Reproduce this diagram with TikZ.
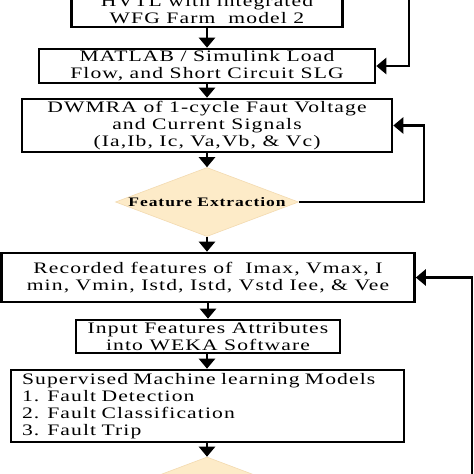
\documentclass[tikz,border=0pt]{standalone}
\usepackage{fontspec}
\setmainfont{Liberation Serif}[FakeStretch=1.35,LetterSpace=7]
\usepackage{tikz}
\usetikzlibrary{arrows.meta}
\usetikzlibrary{shapes.geometric}
\definecolor{tanfill}{HTML}{FDEBC8}
\definecolor{tanedge}{HTML}{F3DAB0}
\tikzset{blk/.style={draw, line width=2.6pt, inner sep=0pt, align=center, font=\fontsize{16}{17}\selectfont}}
\tikzset{dec/.style={diamond, fill=tanfill, draw=tanedge, line width=.6pt, inner sep=0pt, font=\fontsize{13}{13}\selectfont\bfseries}}
\tikzset{go/.style={line width=2.6pt, -{Triangle[width=16pt,length=10pt]}}}

\begin{document}
\begin{tikzpicture}[x=1pt, y=-1pt]
        \path[use as bounding box] (0,0) rectangle (474,474);
        \clip (0,0) rectangle (474,474);
        \fill[white] (0,0) rectangle (474,474);
          \node[blk, minimum width=271, minimum height=35] (hvtl) at (207,9.5) {HVTL with integrated\\WFG Farm~ model 2};
          \node[blk, minimum width=336, minimum height=34] (matlab) at (207,66) {MATLAB / Simulink Load\\Flow, and Short Circuit SLG};
          \node[blk, minimum width=370, minimum height=53] (dwmra) at (207,125.5) {DWMRA of 1-cycle Faut Voltage\\and Current Signals\\(Ia,Ib, Ic, Va,Vb, \& Vc)};
          \node[dec, minimum width=183, minimum height=69] (feat) at (207,202) {\makebox[0pt]{Feature Extraction}};
          \node[blk, minimum width=413, minimum height=49] (rec) at (208,277.5) {Recorded features of~ Imax, Vmax, I\\min, Vmin, Istd, Istd, Vstd Iee, \& Vee};
          \node[blk, minimum width=264, minimum height=33] (weka) at (208,336.5) {Input Features Attributes\\into WEKA Software};
          \node[blk, minimum width=393, minimum height=72, align=left, text width=371] (sml) at (207.5,406) {Supervised Machine learning Models\\1. Fault Detection\\2. Fault Classification\\3. Fault Trip};
          \node[dec, minimum width=183, minimum height=69] (out) at (207,491.5) {};
          \coordinate (top) at (409,-20);
          \coordinate (side) at (424,0);
          \coordinate (bot) at (472,500);
          \draw[go] (hvtl.south) -- (matlab.north);
          \draw[go] (matlab.south) -- (dwmra.north);
          \draw[go] (dwmra.south) -- (feat.north);
          \draw[go] (feat.south) -- (feat.south |- rec.north);
          \draw[go] (rec.south -| weka.north) -- (weka.north);
          \draw[go] (weka.south) -- (weka.south -| out.north) -- (out.north |- sml.north);
          \draw[go] (sml.south -| out.north) -- (out.north);
          \draw[go] (top) |- (matlab.east);
          \draw[go] (feat.east) -| (side |- dwmra.east) -- (dwmra.east);
          \draw[go] (bot) |- (rec.east);
\end{tikzpicture}
\end{document}
